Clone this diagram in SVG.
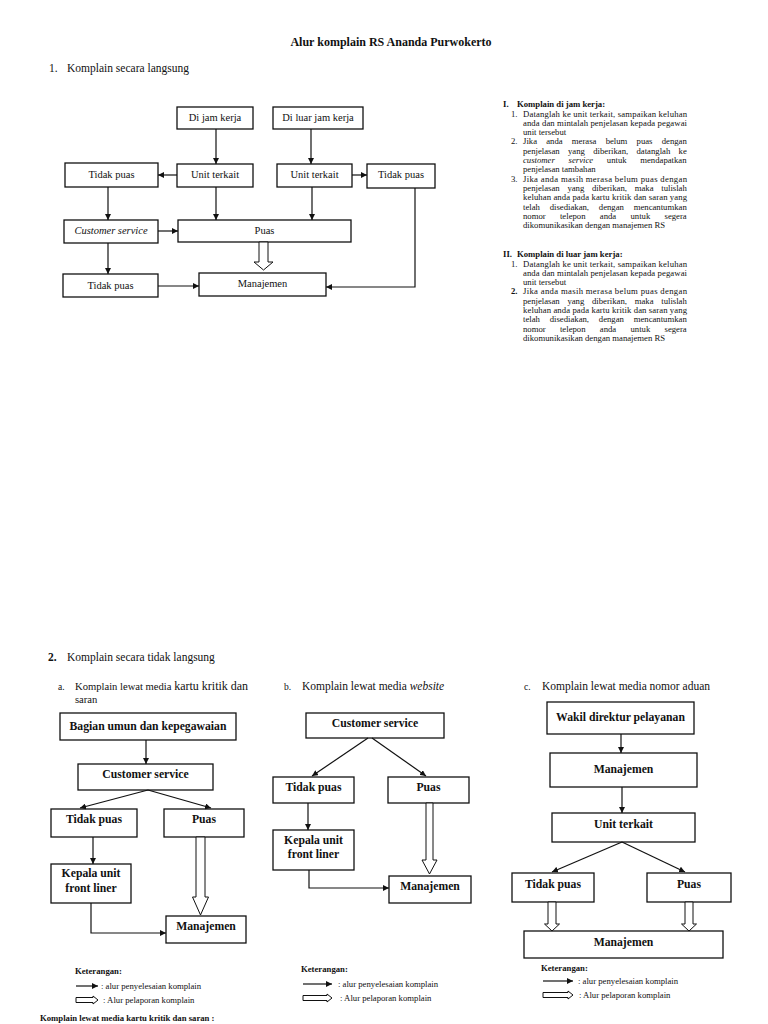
<svg xmlns="http://www.w3.org/2000/svg" width="768" height="1024" viewBox="0 0 768 1024">
<defs>
<marker id="ah" viewBox="0 0 10 10" refX="10" refY="5" markerWidth="6" markerHeight="6" markerUnits="userSpaceOnUse" orient="auto"><path d="M0,0 L10,5 L0,10 z" fill="#111"/></marker>
<style>
text{font-family:'Liberation Serif','Times New Roman',serif;fill:#111}
.box{fill:#fff;stroke:#111;stroke-width:1.3}
.lbl{font-size:10.5px;text-anchor:middle}
.blbl{font-size:11.7px;font-weight:bold;text-anchor:middle}
.con{fill:none;stroke:#111;stroke-width:1.2}
.arr{marker-end:url(#ah)}
.hol{fill:#fff;stroke:#111;stroke-width:1}
.h1{font-size:11.5px}
.sm{font-size:8.7px}
.smb{font-size:8.7px;font-weight:bold}
.it{font-style:italic}
</style>
</defs>
<rect width="768" height="1024" fill="#fff"/>

<text x="391" y="46" text-anchor="middle" style="font-size:12px;font-weight:bold">Alur komplain RS Ananda Purwokerto</text>
<text x="49" y="72" class="h1">1.</text>
<text x="67" y="72" class="h1">Komplain secara langsung</text>

<!-- Diagram 1 nodes -->
<g id="d1-dijam"><rect class="box" x="177" y="107" width="76" height="22"/><text class="lbl" x="215" y="121">Di jam kerja</text></g>
<g id="d1-diluar"><rect class="box" x="273" y="107" width="90" height="22"/><text class="lbl" x="318" y="121">Di luar jam kerja</text></g>
<g id="d1-tidakpuas1"><rect class="box" x="65" y="163" width="93" height="24"/><text class="lbl" x="111.5" y="178">Tidak puas</text></g>
<g id="d1-unit1"><rect class="box" x="177" y="164" width="76" height="23"/><text class="lbl" x="215" y="178">Unit terkait</text></g>
<g id="d1-unit2"><rect class="box" x="277" y="164" width="75" height="23"/><text class="lbl" x="314.5" y="178">Unit terkait</text></g>
<g id="d1-tidakpuas2"><rect class="box" x="367" y="164" width="68" height="24"/><text class="lbl" x="401" y="178">Tidak puas</text></g>
<g id="d1-cs"><rect class="box" x="64" y="220" width="94" height="23"/><text class="lbl it" x="111" y="234">Customer service</text></g>
<g id="d1-puas"><rect class="box" x="178" y="220" width="173" height="22"/><text class="lbl" x="264.5" y="234">Puas</text></g>
<g id="d1-tidakpuas3"><rect class="box" x="63" y="274" width="95" height="23"/><text class="lbl" x="110.5" y="289">Tidak puas</text></g>
<g id="d1-manajemen"><rect class="box" x="199" y="273" width="127" height="23"/><text class="lbl" x="262.5" y="287">Manajemen</text></g>

<!-- Right explanatory text -->
<g id="notes">
<text x="503" y="107" class="smb">I.</text><text x="517" y="107" class="smb">Komplain di jam kerja:</text>
<text x="511" y="116.5" class="sm">1.</text>
<text x="523" y="116.5" class="sm" textLength="164" lengthAdjust="spacing">Datanglah ke unit terkait, sampaikan keluhan</text>
<text x="523" y="125.8" class="sm" textLength="164" lengthAdjust="spacing">anda dan mintalah penjelasan kepada pegawai</text>
<text x="523" y="135.1" class="sm">unit tersebut</text>
<text x="511" y="144.4" class="sm">2.</text>
<text x="523" y="144.4" class="sm" word-spacing="7.04">Jika anda merasa belum puas dengan</text>
<text x="523" y="153.7" class="sm" word-spacing="6.15">penjelasan yang diberikan, datanglah ke</text>
<text x="523" y="163" class="sm" word-spacing="11.5"><tspan class="it">customer service</tspan> untuk mendapatkan</text>
<text x="523" y="172.3" class="sm">penjelasan tambahan</text>
<text x="511" y="181.6" class="sm">3.</text>
<text x="523" y="181.6" class="sm" textLength="164" lengthAdjust="spacing">Jika anda masih merasa belum puas dengan</text>
<text x="523" y="190.9" class="sm" word-spacing="5.55">penjelasan yang diberikan, maka tulislah</text>
<text x="523" y="200.2" class="sm" textLength="164" lengthAdjust="spacing">keluhan anda pada kartu kritik dan saran yang</text>
<text x="523" y="209.5" class="sm" word-spacing="7.63">telah disediakan, dengan mencantumkan</text>
<text x="523" y="218.8" class="sm" word-spacing="12.1">nomor telepon anda untuk segera</text>
<text x="523" y="228.1" class="sm">dikomunikasikan dengan manajemen RS</text>

<text x="503" y="257" class="smb">II.</text><text x="517" y="257" class="smb">Komplain di luar jam kerja:</text>
<text x="511" y="266.5" class="sm">1.</text>
<text x="523" y="266.5" class="sm" textLength="164" lengthAdjust="spacing">Datanglah ke unit terkait, sampaikan keluhan</text>
<text x="523" y="275.8" class="sm" textLength="164" lengthAdjust="spacing">anda dan mintalah penjelasan kepada pegawai</text>
<text x="523" y="285.1" class="sm">unit tersebut</text>
<text x="511" y="294.4" class="smb">2.</text>
<text x="523" y="294.4" class="sm" textLength="164" lengthAdjust="spacing">Jika anda masih merasa belum puas dengan</text>
<text x="523" y="303.7" class="sm" word-spacing="5.55">penjelasan yang diberikan, maka tulislah</text>
<text x="523" y="313" class="sm" textLength="164" lengthAdjust="spacing">keluhan anda pada kartu kritik dan saran yang</text>
<text x="523" y="322.3" class="sm" word-spacing="7.63">telah disediakan, dengan mencantumkan</text>
<text x="523" y="331.6" class="sm" word-spacing="12.1">nomor telepon anda untuk segera</text>
<text x="523" y="340.9" class="sm">dikomunikasikan dengan manajemen RS</text>
</g>

<!-- Section 2 headings -->
<text x="48" y="661" class="h1" font-weight="bold">2.</text>
<text x="67" y="661" class="h1">Komplain secara tidak langsung</text>
<text x="58" y="690" style="font-size:9.5px">a.</text>
<text x="75" y="690" style="font-size:10.6px">Komplain lewat media <tspan style="font-size:12px">kartu kritik dan</tspan></text>
<text x="75" y="703" style="font-size:10.6px">saran</text>
<text x="284" y="690" style="font-size:9.5px">b.</text>
<text x="302" y="690" class="h1">Komplain lewat media <tspan class="it">website</tspan></text>
<text x="524" y="690" style="font-size:9.5px">c.</text>
<text x="542" y="690" class="h1">Komplain lewat media nomor aduan</text>

<!-- Diagram a nodes -->
<g id="da-bagian"><rect class="box" x="60" y="713" width="176" height="27"/><text class="blbl" x="148" y="730">Bagian umun dan kepegawaian</text></g>
<g id="da-cs"><rect class="box" x="78" y="764" width="135" height="26"/><text class="blbl" x="145.5" y="778">Customer service</text></g>
<g id="da-tidakpuas"><rect class="box" x="51" y="809" width="86" height="28"/><text class="blbl" x="94" y="823">Tidak puas</text></g>
<g id="da-puas"><rect class="box" x="164" y="809" width="80" height="28"/><text class="blbl" x="204" y="823">Puas</text></g>
<g id="da-kepala"><rect class="box" x="51" y="864" width="80" height="39"/><text class="blbl" x="91" y="877">Kepala unit</text><text class="blbl" x="91" y="892">front liner</text></g>
<g id="da-manajemen"><rect class="box" x="166" y="916" width="80" height="27"/><text class="blbl" x="206" y="930">Manajemen</text></g>

<!-- Diagram b nodes -->
<g id="db-cs"><rect class="box" x="306" y="713" width="138" height="25"/><text class="blbl" x="375" y="727">Customer service</text></g>
<g id="db-tidakpuas"><rect class="box" x="273" y="777" width="81" height="26"/><text class="blbl" x="313.5" y="791">Tidak puas</text></g>
<g id="db-puas"><rect class="box" x="388" y="777" width="81" height="26"/><text class="blbl" x="428.5" y="791">Puas</text></g>
<g id="db-kepala"><rect class="box" x="273" y="830" width="81" height="40"/><text class="blbl" x="313.5" y="844">Kepala unit</text><text class="blbl" x="313.5" y="858">front liner</text></g>
<g id="db-manajemen"><rect class="box" x="389" y="876" width="82" height="27"/><text class="blbl" x="430" y="890">Manajemen</text></g>

<!-- Diagram c nodes -->
<g id="dc-wakil"><rect class="box" x="547" y="702" width="147" height="32"/><text class="blbl" x="620.5" y="721">Wakil direktur pelayanan</text></g>
<g id="dc-manajemen1"><rect class="box" x="550" y="753" width="147" height="34"/><text class="blbl" x="623.5" y="773">Manajemen</text></g>
<g id="dc-unit"><rect class="box" x="552" y="813" width="143" height="29"/><text class="blbl" x="623.5" y="828">Unit terkait</text></g>
<g id="dc-tidakpuas"><rect class="box" x="512" y="873" width="82" height="29"/><text class="blbl" x="553" y="888">Tidak puas</text></g>
<g id="dc-puas"><rect class="box" x="647" y="873" width="84" height="29"/><text class="blbl" x="689" y="888">Puas</text></g>
<g id="dc-manajemen2"><rect class="box" x="524" y="931" width="199" height="27"/><text class="blbl" x="623.5" y="946">Manajemen</text></g>

<!-- Connectors -->
<g id="connectors">
<path class="con arr" d="M216,129 V164"/>
<path class="con arr" d="M311,129 V164"/>
<path class="con arr" d="M177,175 H158"/>
<path class="con arr" d="M352,175 H367"/>
<path class="con arr" d="M108,187 V220"/>
<path class="con arr" d="M216,187 V220"/>
<path class="con arr" d="M312,187 V220"/>
<path class="con arr" d="M158,231 H178"/>
<path class="con arr" d="M108,243 V274"/>
<path class="con arr" d="M158,286 H199"/>
<path class="con arr" d="M415,188 V287 H326"/>
<polygon class="hol" points="259,242 268,242 268,262 273,262 263.5,270 254,262 259,262"/>

<path class="con arr" d="M146,740 V764"/>
<path class="con arr" d="M148,790 L80,808"/>
<path class="con arr" d="M148,790 L211,808"/>
<path class="con arr" d="M93,837 V864"/>
<path class="con arr" d="M91,903 V933 H166"/>
<polygon class="hol" points="196,837 205,837 205,897 208.5,897 200.5,915 192.5,897 196,897"/>

<path class="con arr" d="M368,738 L312,776"/>
<path class="con arr" d="M372,738 L426,776"/>
<path class="con arr" d="M308,803 V830"/>
<path class="con arr" d="M309,870 V888 H389"/>
<polygon class="hol" points="426,803 433,803 433,860 437,860 429.5,874 422,860 426,860"/>

<path class="con arr" d="M621,734 V753"/>
<path class="con arr" d="M622,787 V813"/>
<path class="con arr" d="M622,842 L552,872"/>
<path class="con arr" d="M622,842 L685,872"/>
<polygon class="hol" points="548,902 556,902 556,924 559.5,924 552,931 544.5,924 548,924"/>
<polygon class="hol" points="685,902 693,902 693,924 696.5,924 689,931 681.5,924 685,924"/>
</g>

<!-- Legends -->
<g id="legend-a">
<text x="75" y="974" class="smb">Keterangan:</text>
<path class="con arr" d="M76,986 H98"/>
<text x="101" y="989" class="sm">: alur penyelesaian komplain</text>
<polygon class="hol" points="76,997.5 93,997.5 93,996 98,1000 93,1004 93,1002.5 76,1002.5"/>
<text x="103" y="1003" class="sm">:  Alur pelaporan komplain</text>
</g>
<g id="legend-b">
<text x="301" y="972" class="smb">Keterangan:</text>
<path class="con arr" d="M303,984 H332"/>
<text x="338" y="987" class="sm">: alur penyelesaian komplain</text>
<polygon class="hol" points="303,995.5 327,995.5 327,994 332,998 327,1002 327,1000.5 303,1000.5"/>
<text x="340" y="1001" class="sm">:  Alur pelaporan komplain</text>
</g>
<g id="legend-c">
<text x="541" y="971" class="smb">Keterangan:</text>
<path class="con arr" d="M543,981 H573"/>
<text x="578" y="984" class="sm">: alur penyelesaian komplain</text>
<polygon class="hol" points="543,992.5 568,992.5 568,991 573,995 568,999 568,997.5 543,997.5"/>
<text x="579" y="998" class="sm">:  Alur pelaporan komplain</text>
</g>
<text x="40" y="1020.5" class="smb">Komplain lewat media kartu kritik dan saran :</text>
</svg>
